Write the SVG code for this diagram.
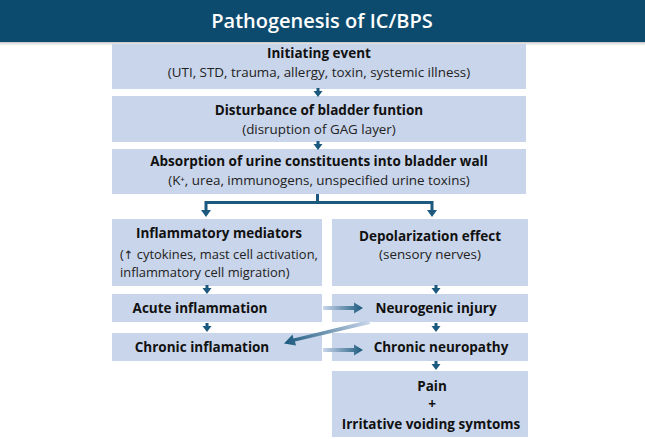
<svg xmlns="http://www.w3.org/2000/svg" width="645" height="439" viewBox="0 0 645 439">
<defs>
<style>
.box{fill:#c9d5ea}
.h{font-family:"Open Sans","Liberation Sans",sans-serif;font-weight:700;font-size:13.5px;fill:#111;text-anchor:middle}
.s{font-family:"Open Sans","Liberation Sans",sans-serif;font-weight:400;font-size:13.4px;fill:#222;text-anchor:middle}
.l{text-anchor:start;font-size:12.9px}
.dn{fill:#1b5a7e}
.ln{fill:none;stroke:#1b5a7e;stroke-width:3}
</style>
<linearGradient id="gh" x1="0" y1="0" x2="1" y2="0">
<stop offset="0" stop-color="#c9d5ea"/>
<stop offset="1" stop-color="#1b5a7e"/>
</linearGradient>
<linearGradient id="gd" gradientUnits="userSpaceOnUse" x1="369" y1="322" x2="285" y2="343">
<stop offset="0" stop-color="#c9d5ea"/>
<stop offset="1" stop-color="#1b5a7e"/>
</linearGradient>
<linearGradient id="sh" x1="0" y1="0" x2="0" y2="1">
<stop offset="0" stop-color="#999" stop-opacity="0.6"/>
<stop offset="1" stop-color="#fff" stop-opacity="0"/>
</linearGradient>
<path id="da" d="M-1.5,0 h3 v3 h3 l-4.5,6 l-4.5,-6 h3 z"/>
</defs>
<rect width="645" height="439" fill="#fff"/>
<g id="title">
<rect x="0" y="42" width="645" height="5" fill="url(#sh)"/>
<rect x="0" y="0" width="645" height="42" fill="#0d4b6e"/>
<text x="322" y="28" font-family="'Open Sans','Liberation Sans',sans-serif" font-weight="600" font-size="20" fill="#fff" text-anchor="middle">Pathogenesis of IC/BPS</text>
</g>
<g id="n1"><rect class="box" x="112" y="44" width="414" height="45"/>
<text class="h" x="319" y="58">Initiating event</text>
<text class="s" x="319" y="77">(UTI, STD, trauma, allergy, toxin, systemic illness)</text></g>
<g id="n2"><rect class="box" x="112" y="96" width="414" height="46"/>
<text class="h" x="319" y="115">Disturbance of bladder funtion</text>
<text class="s" x="319" y="134">(disruption of GAG layer)</text></g>
<g id="n3"><rect class="box" x="112" y="149" width="414" height="45"/>
<text class="h" x="319" y="166">Absorption of urine constituents into bladder wall</text>
<text class="s" x="319" y="185">(K⁺, urea, immunogens, unspecified urine toxins)</text></g>
<g id="n4"><rect class="box" x="112" y="219" width="210" height="67"/>
<text class="h" x="219" y="238">Inflammatory mediators</text>
<text class="s l" x="120" y="259">(<tspan font-family="'DejaVu Sans',sans-serif" font-size="11.5">↑</tspan> cytokines, mast cell activation,</text>
<text class="s l" x="120" y="277">inflammatory cell migration)</text></g>
<g id="n5"><rect class="box" x="332" y="219" width="196" height="67"/>
<text class="h" x="430" y="241">Depolarization effect</text>
<text class="s" x="430" y="259">(sensory nerves)</text></g>
<g id="n6"><rect class="box" x="112" y="294" width="210" height="28"/>
<text class="h" x="200" y="313">Acute inflammation</text></g>
<g id="n7"><rect class="box" x="332" y="294" width="196" height="28"/>
<text class="h" x="436" y="313">Neurogenic injury</text></g>
<g id="n8"><rect class="box" x="112" y="333" width="210" height="28"/>
<text class="h" x="202" y="352">Chronic inflamation</text></g>
<g id="n9"><rect class="box" x="332" y="333" width="196" height="28"/>
<text class="h" x="441" y="352">Chronic neuropathy</text></g>
<g id="n10"><rect class="box" x="332" y="371" width="196" height="66"/>
<text class="h" x="432" y="391">Pain</text>
<text class="h" x="432" y="409">+</text>
<text class="h" x="431" y="429">Irritative voiding symtoms</text></g>
<g id="connectors">
<use href="#da" class="dn" x="318" y="88"/>
<use href="#da" class="dn" x="318" y="141"/>
<path class="ln" d="M317.5,194 V202.5 M206,202.5 H433.5 M206,201 V211 M432,201 V211"/>
<path class="dn" d="M201,210 h10 l-5,7 z M427,210 h10 l-5,7 z"/>
<use href="#da" class="dn" x="207" y="285"/>
<use href="#da" class="dn" x="436" y="285"/>
<use href="#da" class="dn" x="207" y="323"/>
<use href="#da" class="dn" x="436" y="323"/>
<use href="#da" class="dn" x="436" y="361"/>
<path fill="url(#gh)" d="M323,306 H354 V302.5 L363,308 L354,313.5 V310 H323 Z"/>
<path fill="url(#gh)" d="M323,348 H354 V344.5 L363,350 L354,355.5 V352 H323 Z"/>
<path fill="url(#gd)" d="M369,320 L293.5,338.5 L292.5,334.5 L284,343.5 L296,345.5 L295,341.5 L370,324 Z"/>
</g>
</svg>
